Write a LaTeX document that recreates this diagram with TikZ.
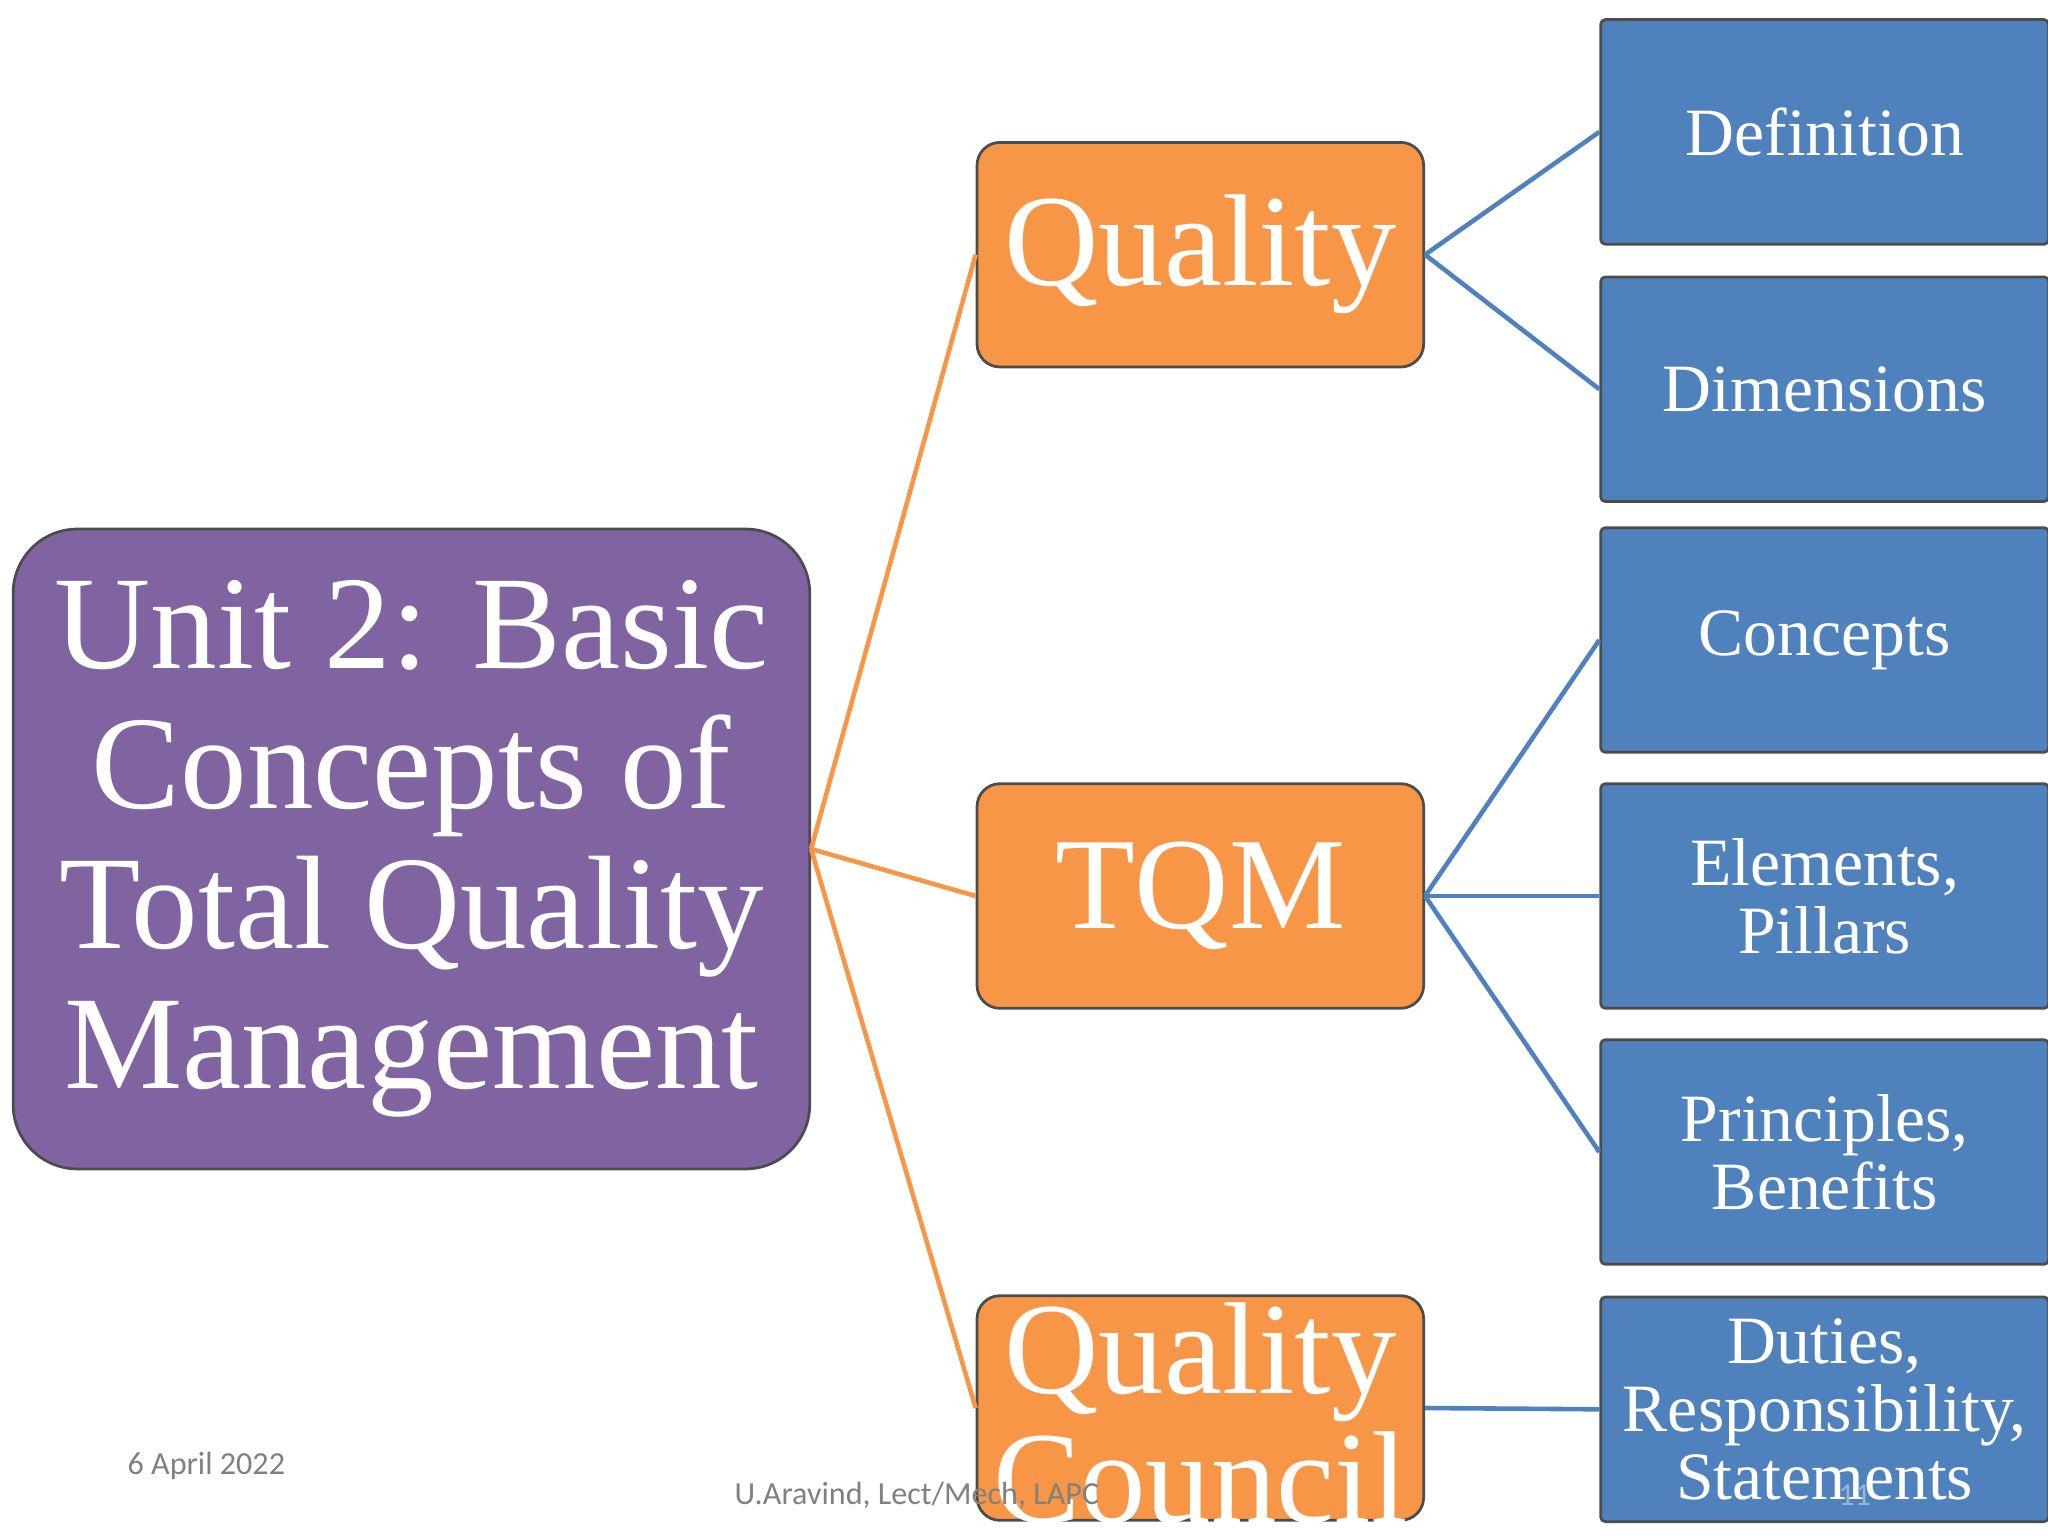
\documentclass[tikz,border=0pt]{standalone}
\usepackage{fontspec}
\setmainfont{Liberation Serif}
\newfontfamily\foot{Carlito}
\definecolor{org}{HTML}{F79646}
\definecolor{pur}{HTML}{8064A2}
\definecolor{blu}{HTML}{4F81BD}
\begin{document}
\begin{tikzpicture}[x=0.02cm,y=-0.02cm,
 box/.style={draw=black!70,line width=1.2pt,rounded corners=#1,text=white,align=center,inner sep=0pt},
 obox/.style={box=10pt,fill=org,minimum width=6.84cm,minimum height=3.44cm,font=\fontsize{57}{56}\selectfont},
 bbox/.style={box=2pt,fill=blu,minimum width=6.86cm,minimum height=3.44cm,font=\fontsize{29.5}{29.5}\selectfont},
 ol/.style={draw=org,line width=2pt},
 bl/.style={draw=blu,line width=2pt}]
\useasboundingbox (0,0) rectangle (1568,1176);
\fill[white] (0,0) rectangle (1568,1176);
\node[box=28pt,fill=pur,minimum width=12.2cm,minimum height=9.8cm,font=\fontsize{58}{61}\selectfont] (main) at (315,650) {Unit 2: Basic\\Concepts of\\Total Quality\\Management};
\node[obox] (q) at (919,195) {Quality};
\node[obox] (t) at (919,686) {TQM};
\node[obox] (c) at (919,1078) {};
\node[text=white,font=\fontsize{57}{56}\selectfont,align=center] (ct) at (919,1082) {Quality\\Council};
\node[bbox] (b1) at (1397,101) {Definition};
\node[bbox] (b2) at (1397,298) {Dimensions};
\node[bbox] (b3) at (1397,490) {Concepts};
\node[bbox] (b4) at (1397,686) {Elements,\\Pillars};
\node[bbox] (b5) at (1397,882) {Principles,\\Benefits};
\node[bbox] (b6) at (1397,1079) {Duties,\\Responsibility,\\Statements};
\draw[ol] (main.east) -- (q.west);
\draw[ol] (main.east) -- (t.west);
\draw[ol] (main.east) -- (c.west);
\draw[bl] (q.east) -- (b1.west);
\draw[bl] (q.east) -- (b2.west);
\draw[bl] (t.east) -- (b3.west);
\draw[bl] (t.east) -- (b4.west);
\draw[bl] (t.east) -- (b5.west);
\draw[bl] (c.east) -- (b6.west);
\node[font=\foot\fontsize{14}{14}\selectfont,text=black!50] (d) at (158,1122) {6 April 2022};
\node[font=\foot\fontsize{14}{14}\selectfont,text=black!50] (a) at (702,1145) {U.Aravind, Lect/Mech, LAPC};
\node[font=\foot\fontsize{14}{14}\selectfont,text=blu!60] (n) at (1420,1145) {11};
\end{tikzpicture}
\end{document}
